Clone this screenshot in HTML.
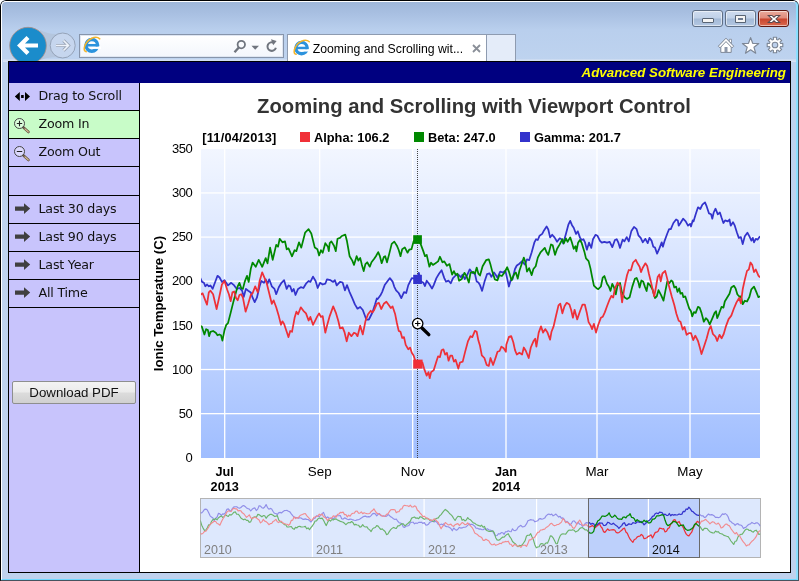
<!DOCTYPE html>
<html><head><meta charset="utf-8"><title>Zooming and Scrolling with Viewport Control</title>
<style>
html,body{margin:0;padding:0;}
body{width:799px;height:581px;overflow:hidden;position:relative;background:#fff;font-family:"Liberation Sans",sans-serif;}
#win{position:absolute;left:0;top:0;width:799px;height:581px;border-radius:6px 6px 0 0;
 background:linear-gradient(#9db5d8 0px,#a9c0e2 14px,#b9cfed 30px,#bed3ef 60px,#bfd2ee 100%);overflow:hidden;}
#win:before{content:"";position:absolute;left:0;top:0;right:0;bottom:0;border:1px solid #000;border-right-color:#46535f;border-bottom-color:#46535f;border-radius:6px 6px 0 0;}
#win:after{content:"";position:absolute;left:1px;top:1px;right:1px;bottom:1px;border:1px solid #fff;border-right:2px solid #8adfff;border-bottom-color:#6fd8ff;border-radius:5px 5px 0 0;pointer-events:none;}
.abs{position:absolute;}
#content{position:absolute;left:8px;top:61px;width:781px;height:510px;border:1px solid #000;background:#fff;}
#hdr{position:absolute;left:0;top:0;width:781px;height:21px;background:#000080;color:#ffff00;font:italic bold 13.33px "Liberation Sans",sans-serif;text-align:right;line-height:22px;}
#hdr span{margin-right:4px;}
#side{position:absolute;left:0;top:21px;width:130px;height:489px;background:#c8c4fc;border-right:1px solid #000;}
.it{position:absolute;left:0;width:130px;height:27px;border-bottom:1px solid #000;font:12.65px "DejaVu Sans","Liberation Sans",sans-serif;color:#111;line-height:26px;}
.it span{position:absolute;left:29.500px;top:0;white-space:nowrap;letter-spacing:-0.2px;}
.it svg{position:absolute;left:0;top:0;}
#btn{position:absolute;left:3px;top:298px;width:122px;height:21px;border:1px solid #8e8f8f;border-radius:2px;background:linear-gradient(#f3f3f3 0,#ebebeb 48%,#dcdcdc 52%,#d0d0d0 100%);font:13.3px "Liberation Sans",sans-serif;color:#111;text-align:center;line-height:21px;}
#tab{position:absolute;left:287px;top:34px;width:200px;height:28px;background:#fff;border:1px solid #8e9bb0;border-bottom:none;box-sizing:border-box;font:12px "Liberation Sans",sans-serif;color:#000;}
#newtab{position:absolute;left:487px;top:34px;width:29px;height:27px;background:#e4ecf9;border:1px solid #8e9bb0;border-left:none;border-bottom:none;box-sizing:border-box;}
#addr{position:absolute;left:79px;top:34px;width:205px;height:24px;background:linear-gradient(#fff,#f3f6fc);box-shadow:inset 0 0 0 1px #dfe6f2;border:1px solid #8795ab;box-sizing:border-box;}
.wb{position:absolute;top:10px;height:17px;width:31px;box-sizing:border-box;border:1px solid #5f6f86;border-radius:3px;box-shadow:inset 0 0 0 1px rgba(255,255,255,.55);}
</style></head><body>
<div id="win">

<div class="wb" style="left:692px;width:31px;background:linear-gradient(#cfdcef 0,#c0d1e8 47%,#a4bad7 53%,#b3c7e2 100%);"><div class="abs" style="left:9px;top:7px;width:10px;height:3px;background:#f4f4f4;border:1px solid #586474;border-radius:1px;"></div></div>
<div class="wb" style="left:725px;width:31px;background:linear-gradient(#cfdcef 0,#c0d1e8 47%,#a4bad7 53%,#b3c7e2 100%);"><div class="abs" style="left:9px;top:4px;width:11px;height:8px;background:#586474;border-radius:1px;"></div><div class="abs" style="left:10px;top:5px;width:9px;height:6px;background:#f4f4f4;"></div><div class="abs" style="left:12px;top:7px;width:5px;height:2px;background:#6c7a90;"></div></div>
<div class="wb" style="left:758px;width:31px;border-color:#5d1812;background:linear-gradient(#eaaa9c 0,#e08b7b 47%,#c9452e 53%,#d9684f 100%);"><svg class="abs" style="left:6.500px;top:3px" width="16" height="10" viewBox="0 0 14 10" preserveAspectRatio="none"><path d="M2 1.500 L5.200 1.500 L7 3.200 L8.800 1.500 L12 1.500 L8.700 5 L12 8.500 L8.800 8.500 L7 6.800 L5.200 8.500 L2 8.500 L5.300 5 Z" fill="#fff" stroke="#5a4a50" stroke-width="1"/></svg></div>
<div class="abs" style="left:3px;top:58.500px;width:793px;height:3px;background:linear-gradient(#c9d9f0,#dde7f6);"></div>
<svg class="abs" style="left:0;top:20px" width="90" height="48" viewBox="0 20 90 48">
<path d="M40 30 Q52 36 62 33 L62 58 Q50 56 40 60 Z" fill="#b4c4dc" opacity="0.9"/>
<circle cx="28" cy="45.600" r="18.300" fill="#1b8ccb" stroke="#a98e86" stroke-width="0.8"/>
<path d="M38 45.500 L21 45.500 M28 37.500 L20 45.500 L28 53.500" fill="none" stroke="#fff" stroke-width="4.2" stroke-linecap="butt" stroke-linejoin="miter"/>
<circle cx="62.700" cy="45.500" r="12.500" fill="#c6d6ee" stroke="#95a3b8" stroke-width="1"/>
<path d="M56 45.5 L68 45.5 M63.5 40.5 L68.5 45.5 L63.5 50.5" fill="none" stroke="#9aa5b6" stroke-width="3.2"/>
<path d="M56 45.5 L68 45.5 M63.5 40.5 L68.5 45.5 L63.5 50.5" fill="none" stroke="#eef3fb" stroke-width="1.6"/>
</svg>
<div id="addr"><svg class="abs" style="left:1.7px;top:0.3px" width="19" height="19" viewBox="0 0 18 18"><circle cx="9.3" cy="9.8" r="5.5" fill="none" stroke="#2c93dd" stroke-width="3.3"/><rect x="9.3" y="10.9" width="9" height="2.3" fill="#fff"/><rect x="4.5" y="8.5" width="10.3" height="2.4" fill="#2c93dd"/><path d="M16.8 3.6 C13 0.2 4.500 3.500 2.300 11.500 C1.800 14 2.600 15.500 4 15.800" fill="none" stroke="#f3b52c" stroke-width="1.5" stroke-linecap="round"/></svg>
<svg class="abs" style="left:150px;top:2px" width="54" height="19" viewBox="0 0 54 19"><circle cx="11.300" cy="7.600" r="3.700" fill="none" stroke="#70757e" stroke-width="1.800"/><path d="M8.800 10.500 L4.500 15.300" stroke="#70757e" stroke-width="2.400"/><path d="M21.500 8.800 L29 8.800 L25.200 12.800 Z" fill="#70757e"/><path d="M44.200 6 A4.300 4.300 0 1 0 45.900 10.800" fill="none" stroke="#70757e" stroke-width="2"/><path d="M41 2.200 L46.600 4 L43.200 8.200 Z" fill="#70757e"/></svg></div>
<div id="tab"><svg class="abs" style="left:4px;top:3px" width="18.5" height="18.5" viewBox="0 0 18 18"><circle cx="9.3" cy="9.8" r="5.5" fill="none" stroke="#2c93dd" stroke-width="3.3"/><rect x="9.3" y="10.9" width="9" height="2.3" fill="#fff"/><rect x="4.5" y="8.5" width="10.3" height="2.4" fill="#2c93dd"/><path d="M16.8 3.6 C13 0.2 4.500 3.500 2.300 11.500 C1.800 14 2.600 15.500 4 15.800" fill="none" stroke="#f3b52c" stroke-width="1.5" stroke-linecap="round"/></svg><span class="abs" style="left:24.700px;top:6.600px;white-space:nowrap;font-size:12.25px">Zooming and Scrolling wit...</span><svg class="abs" style="left:184px;top:9px" width="9" height="9" viewBox="0 0 9 9"><path d="M1 1 L8 8 M8 1 L1 8" stroke="#8a8f98" stroke-width="1.8"/></svg></div><div id="newtab"></div>
<svg class="abs" style="left:715px;top:35px" width="72" height="22" viewBox="715 35 72 22" fill="none" stroke-linejoin="round">
<path d="M723.700 41.200 L720.800 44.200 L720.800 52.400 L731.200 52.400 L731.200 44.200 L728.300 41.200 Z" fill="#fff" stroke="#7d8796" stroke-width="1"/><rect x="724.500" y="47" width="3" height="5" fill="#8d98aa"/><path d="M729.300 39.300 L731.500 39.300 L731.500 43.500 L729.300 41.500 Z" fill="#fff" stroke="#7d8796" stroke-width="0.8"/><path d="M718.300 46.200 L726 38.200 L733.700 46.200 L732 47.800 L726 41.600 L720 47.800 Z" fill="#fff" stroke="#7d8796" stroke-width="1"/>
<polygon points="750.6,37.6 752.7,43.3 758.8,43.5 754.0,47.3 755.7,53.2 750.6,49.8 745.5,53.2 747.2,47.3 742.4,43.5 748.5,43.3" fill="#fff" stroke="#7d8796" stroke-width="1.2"/>
<polygon points="782.8,43.3 782.8,46.7 780.6,46.5 780.0,47.9 781.7,49.3 779.3,51.7 777.9,50.0 776.5,50.6 776.7,52.8 773.3,52.8 773.5,50.6 772.1,50.0 770.7,51.7 768.3,49.3 770.0,47.9 769.4,46.5 767.2,46.7 767.2,43.3 769.4,43.5 770.0,42.1 768.3,40.7 770.7,38.3 772.1,40.0 773.5,39.4 773.3,37.2 776.7,37.2 776.5,39.4 777.9,40.0 779.3,38.3 781.7,40.7 780.0,42.1 780.6,43.5" fill="#fff" stroke="#7d8796" stroke-width="1.1"/><circle cx="775" cy="45" r="2.8" fill="#bcd0ec" stroke="#7d8796" stroke-width="1.1"/>
</svg>
<div id="content"><div id="hdr"><span>Advanced Software Engineering</span></div>
<div id="side">
<div class="it" style="top:0px;"><svg width="30" height="27" viewBox="0 0 30 27"><path d="M5.800 13.500 L10.800 9 L10.800 18 Z M21 13.500 L16 9 L16 18 Z" fill="#000"/><rect x="12.100" y="12" width="2.600" height="3" fill="#000"/></svg><span>Drag to Scroll</span></div>
<div class="it" style="top:28px;background:#c8fcc8;"><svg width="30" height="27" viewBox="0 0 30 27"><path d="M14.500 16.500 L19.500 21" stroke="#6a5a4a" stroke-width="2.600" stroke-linecap="round"/><path d="M16 17.800 L19.300 20.800" stroke="#dcc498" stroke-width="1.100" stroke-linecap="round"/><circle cx="10.500" cy="12.500" r="5" fill="rgba(255,255,255,.35)" stroke="#444" stroke-width="1"/><path d="M7.800 12.500 L13.200 12.500 M10.500 9.800 L10.500 15.200" stroke="#222" stroke-width="1.1"/></svg><span>Zoom In</span></div>
<div class="it" style="top:56px;"><svg width="30" height="27" viewBox="0 0 30 27"><path d="M14.500 16.500 L19.500 21" stroke="#6a5a4a" stroke-width="2.600" stroke-linecap="round"/><path d="M16 17.800 L19.300 20.800" stroke="#dcc498" stroke-width="1.100" stroke-linecap="round"/><circle cx="10.500" cy="12.500" r="5" fill="rgba(255,255,255,.35)" stroke="#444" stroke-width="1"/><path d="M7.800 12.500 L13.200 12.500" stroke="#222" stroke-width="1.1"/></svg><span>Zoom Out</span></div>
<div class="it" style="top:84px;height:28px;"><span></span></div>
<div class="it" style="top:113px;"><svg width="30" height="27" viewBox="0 0 30 27"><path d="M6 10.400 L15 10.400 L15 7.200 L21.200 12.600 L15 18 L15 14.800 L6 14.800 Z" fill="#404040"/></svg><span>Last 30 days</span></div>
<div class="it" style="top:141px;"><svg width="30" height="27" viewBox="0 0 30 27"><path d="M6 10.400 L15 10.400 L15 7.200 L21.200 12.600 L15 18 L15 14.800 L6 14.800 Z" fill="#404040"/></svg><span>Last 90 days</span></div>
<div class="it" style="top:169px;"><svg width="30" height="27" viewBox="0 0 30 27"><path d="M6 10.400 L15 10.400 L15 7.200 L21.200 12.600 L15 18 L15 14.800 L6 14.800 Z" fill="#404040"/></svg><span>Last Year</span></div>
<div class="it" style="top:197px;"><svg width="30" height="27" viewBox="0 0 30 27"><path d="M6 10.400 L15 10.400 L15 7.200 L21.200 12.600 L15 18 L15 14.800 L6 14.800 Z" fill="#404040"/></svg><span>All Time</span></div>
<div id="btn">Download PDF</div>
</div>
</div>
<svg class="abs" style="left:0;top:0" width="799" height="581" viewBox="0 0 799 581" font-family="Liberation Sans, sans-serif">
<defs><linearGradient id="pg" x1="0" y1="0" x2="0" y2="1"><stop offset="0" stop-color="#f2f6ff"/><stop offset="0.35" stop-color="#d9e5ff"/><stop offset="1" stop-color="#9fbdff"/></linearGradient></defs>
<rect x="201" y="149" width="559" height="309" fill="url(#pg)"/>
<text x="192.300" y="462.0" font-size="13" letter-spacing="-0.5" text-anchor="end" fill="#000">0</text>
<rect x="201" y="413.01" width="559" height="1.300" fill="#fff"/>
<text x="192.300" y="417.9" font-size="13" letter-spacing="-0.5" text-anchor="end" fill="#000">50</text>
<rect x="201" y="368.86" width="559" height="1.300" fill="#fff"/>
<text x="192.300" y="373.7" font-size="13" letter-spacing="-0.5" text-anchor="end" fill="#000">100</text>
<rect x="201" y="324.72" width="559" height="1.300" fill="#fff"/>
<text x="192.300" y="329.6" font-size="13" letter-spacing="-0.5" text-anchor="end" fill="#000">150</text>
<rect x="201" y="280.58" width="559" height="1.300" fill="#fff"/>
<text x="192.300" y="285.4" font-size="13" letter-spacing="-0.5" text-anchor="end" fill="#000">200</text>
<rect x="201" y="236.44" width="559" height="1.300" fill="#fff"/>
<text x="192.300" y="241.3" font-size="13" letter-spacing="-0.5" text-anchor="end" fill="#000">250</text>
<rect x="201" y="192.29" width="559" height="1.300" fill="#fff"/>
<text x="192.300" y="197.1" font-size="13" letter-spacing="-0.5" text-anchor="end" fill="#000">300</text>
<text x="192.300" y="153.0" font-size="13" letter-spacing="-0.5" text-anchor="end" fill="#000">350</text>
<rect x="224.05" y="149" width="1.300" height="309" fill="#fff"/>
<text x="224.7" y="475.500" text-anchor="middle" font-weight="bold" font-size="12.7" fill="#000">Jul</text>
<text x="224.7" y="490.500" font-size="12.7" text-anchor="middle" font-weight="bold" fill="#000">2013</text>
<rect x="319.05" y="149" width="1.300" height="309" fill="#fff"/>
<text x="319.7" y="475.500" text-anchor="middle" font-size="13.4" fill="#000">Sep</text>
<rect x="412.05" y="149" width="1.300" height="309" fill="#fff"/>
<text x="412.7" y="475.500" text-anchor="middle" font-size="13.4" fill="#000">Nov</text>
<rect x="505.35" y="149" width="1.300" height="309" fill="#fff"/>
<text x="506.0" y="475.500" text-anchor="middle" font-weight="bold" font-size="12.7" fill="#000">Jan</text>
<text x="506.0" y="490.500" font-size="12.7" text-anchor="middle" font-weight="bold" fill="#000">2014</text>
<rect x="596.35" y="149" width="1.300" height="309" fill="#fff"/>
<text x="597.0" y="475.500" text-anchor="middle" font-size="13.4" fill="#000">Mar</text>
<rect x="689.35" y="149" width="1.300" height="309" fill="#fff"/>
<text x="690.0" y="475.500" text-anchor="middle" font-size="13.4" fill="#000">May</text>
<text x="474" y="113" font-size="20.25" font-weight="bold" text-anchor="middle" fill="#333">Zooming and Scrolling with Viewport Control</text>
<text transform="translate(163.300,303.500) rotate(-90)" font-size="13.2" font-weight="bold" text-anchor="middle" fill="#000">Ionic Temperature (C)</text>
<text x="202.300" y="142" font-size="12.8" letter-spacing="0.2" font-weight="bold" fill="#000">[11/04/2013]</text>
<rect x="300" y="132" width="10" height="10" fill="#f03038"/><text x="314" y="142" font-size="12.8" font-weight="bold" fill="#000">Alpha: 106.2</text>
<rect x="414" y="132" width="10" height="10" fill="#008800"/><text x="428" y="142" font-size="12.8" font-weight="bold" fill="#000">Beta: 247.0</text>
<rect x="520" y="132" width="10" height="10" fill="#3333cc"/><text x="534" y="142" font-size="12.8" font-weight="bold" fill="#000">Gamma: 201.7</text>
<clipPath id="cp"><rect x="201" y="149" width="559" height="309"/></clipPath><g clip-path="url(#cp)" fill="none" stroke-width="1.750" stroke-linejoin="round">
<polyline points="200,277.5 202.1,281.9 203.9,282.8 205.3,286.3 207,284.5 208.8,286.3 210.5,285.4 212.6,288.9 214.9,282.8 217.5,275.8 219.6,277.5 221.9,281.9 224.5,280.2 228,285.4 231.2,282.8 234.2,285.4 236.8,288.9 239.4,288 242.1,290.7 243.8,296.8 245.9,288.9 248.2,290.7 250.8,292.4 252.6,297.7 254.7,302.1 256.9,297.7 259.6,286.3 261.3,281 264,282.8 265.7,279.3 267.5,283.7 269.2,279.3 271.8,286.3 274.5,288.9 276.2,294.2 278.8,287.2 281.5,282.8 284.1,280.2 286.7,288.9 288.5,285.4 290.2,286.3 292,291.5 293.7,288.9 295.5,295 298.1,288.9 300.8,287.2 303.4,288 306,283.7 308.6,281 310.4,281.9 313,276.6 315.6,281 317.7,288 320,282.8 322.7,284.5 325.3,283.7 327,279.3 330.5,280.2 333.2,281.9 334.9,280.2 336.7,285.4 340,281.9 342.6,282.5 344.9,290.3 347,285.1 349.6,292.1 352.3,298.2 354.9,304.4 357.5,308.7 360.2,307 362.8,310 366.3,319.5 368.9,319.5 372.4,312.5 375,304.6 376.8,298.5 377.7,299.1 380.3,295.6 382.1,292.1 384.7,285.1 387.3,281.6 389.9,278.1 392.6,281.6 394.3,286.8 396.1,290.3 398.7,293 401.3,298.2 404,292.1 406.2,293 408.3,285.1 411.8,278.1 417.1,279 418.8,272.8 421,281.6 423.2,282.5 425,286 426.7,280.7 429.4,284.2 432,288.6 433.7,285.1 436.4,278.1 439,273.7 441.6,270.2 444.3,278.1 446,281.6 448.6,280.7 450.7,283.3 453,278.1 455.6,275.5 458.3,274.6 460.9,277.2 462.7,274.6 464.8,279 467,275.5 469.7,269.3 472.3,272.8 474.9,273.7 476.7,281.6 478.4,282.5 480,285.1 482.1,290.9 484.4,282.1 487,274.2 489.6,273.3 491.4,276.8 494,272.5 495.8,275.1 497.5,277.7 500.2,271.6 502.8,272.5 505.4,270.7 507.2,278.6 508.9,286.5 510.7,280.3 512.4,279.5 515,269 516.8,265.5 519.4,263.7 522.1,261.1 524.7,264.6 527,259.3 529.1,260.2 531.7,252.3 534.3,242.7 536.1,239.2 537.8,240 539.6,235.7 542.2,233.9 544,230.4 546.6,226.4 548.3,229.5 550.1,237.4 552.2,234.8 554.5,237.4 557.1,241.8 559.7,238.3 561.5,239.2 563.2,243.5 565.9,233.9 568.5,224.3 570.2,220.8 572,225.2 573.7,227.8 576,233.9 577.8,231.3 579.9,237.4 581.6,240 583.4,239.2 585.1,242.7 586.9,249.7 589,242.7 591.3,247.9 593,239.2 595.6,234.8 597.4,235.7 600,240.9 601.8,242.7 604.4,241.8 607,242.7 609.7,241.8 612.3,247.1 614.9,240 616.7,239.2 618.4,242.7 620,247.9 622.6,239.7 624.4,241.4 626.7,237.1 628.8,241.4 631.4,230.9 634,226.9 636.6,229.2 638.4,235.3 640.7,237.9 642.8,242.3 645.4,238.8 647.7,243.2 649.4,237.9 651.5,240.6 653.3,246.7 655,247.6 657.1,253.7 659.4,248.4 661.7,242.3 662.9,246.7 664.7,240.6 667.3,233.5 669.1,229.2 670.8,229.2 673.4,223 676.1,219.5 677.8,220.4 678.7,225.7 680.5,223 683.1,218.7 685.7,221.3 688,225.7 690.1,223.9 691,226.5 692.7,220.4 693.6,221.3 695.7,214.3 698,207.3 700.3,209 702.4,204.6 705,202.4 706.7,206.4 709,213.4 711.1,214.3 712.3,218.7 713.7,212.5 715.5,208.7 717.8,214.3 719.9,212.5 721.6,217.8 723.4,223 725.1,220.4 727.8,221.3 729.5,219.5 730.7,225.7 733,222.2 734.8,225.7 737,232.7 738.8,237.9 740.9,237.1 742.7,244.1 744.8,236.2 747.4,232.7 749.3,236.2 751.4,240.6 752.8,237.9 754,242.3 755.8,238.8 757.5,239.7 760,236.2" stroke="#3333cc"/>
<polyline points="200,325.7 201.8,326.6 204.4,334.5 206.1,329.2 207.9,330.1 209.1,336.2 210.5,331.8 213.1,331 215.8,332.7 217.5,335.3 219.3,334.5 221,335.3 222.4,340.6 224.5,330.1 226.3,324.8 228,323.1 230.7,312.6 233.3,302.1 235.9,292.4 237.7,286.3 239.4,282.8 241.2,288 242.9,288.9 244.7,281.9 247,275.8 248.7,281.9 250.8,268.8 252.6,262.6 255.7,266.8 258.7,259.8 262.2,266.8 265.7,258.1 267.5,263.3 270.1,247.6 272.7,259.8 276.2,244.9 278,246.7 279.7,238.8 282.4,242.3 285,241.4 286.7,249.3 288.5,248.4 292,256.3 294.6,250.2 296.4,251.1 299,242.3 301.3,247.6 305.1,232.7 308.6,229.2 311.3,233.5 314.8,247.6 317.4,249.3 319.1,255.5 320.9,250.2 322.7,252.8 325.3,243.2 327.9,246.7 328.8,251.1 329.7,243.2 331.4,241.4 334,245.8 335.8,251.1 337.5,238.8 340,237.9 341.8,236 345.3,234.6 347,241.3 349.6,256.2 352.3,260.6 354,264.9 356.6,256.2 358.4,260.6 360.2,257.9 361.9,264.9 363.7,271.1 365.4,264.1 367.2,262.3 369.8,266.7 371.5,262.3 374.2,258.8 375.9,256.2 378.2,252.1 379.9,256.2 381.7,263.2 383.8,257.1 385.2,256.2 387,262.3 389.1,254.4 391.7,243.9 394.3,241.6 396.9,245.7 398.7,250 400.5,256.2 402.2,249.2 404.8,247.4 407.5,252.7 409.2,249.7 411.5,249.2 413.6,241.3 417.1,239.2 420.6,243.9 423.2,250.9 425,256.2 426.7,254.9 429.4,266.7 431.1,262.7 432.9,264.9 435.5,263.2 438.1,261.4 439.9,256.7 442.5,262.3 444.3,261.4 446.9,265.8 449.5,264.1 452.1,274.6 453.9,271.1 455.6,274.6 457.4,273.7 459.1,280.7 461.8,279 464.4,272.8 466.2,275.5 468.8,282.5 470.5,272.8 473.2,271.9 474.9,273.7 476.7,267.6 478.4,273.7 480,275.5 482.6,266.3 486.1,260.2 488.8,259.3 490.5,264.6 492.3,271.6 494.9,279.5 497.5,280.3 499.3,275.1 501.9,276 504.5,272.5 507.2,267.2 508.9,271.6 511.5,280.3 514.2,274.2 515.9,272.5 517.7,278.6 519.4,270.7 521.2,265.5 523.8,257.6 525.6,262.8 527,271.6 529.1,268.1 531.7,275.1 533.4,269 535.7,266.3 537.8,257.6 540.5,252.3 543.1,249.7 544.8,247.9 546.6,252.3 548.3,254.9 551,244.4 552.7,245.3 555,254.9 557.1,248.8 559.7,244.4 562.4,239.2 563.8,243.5 565.9,238.3 567.6,241.8 570.2,237.4 572,242.7 573.7,248.8 575.5,246.2 576.4,251.4 578.1,242.7 579.9,240 581.6,242.7 584.3,251.4 586,258.4 588.6,261.1 590.4,268.1 592.1,276.8 593.9,285.6 596.5,288.2 598.3,289.1 600.9,286.5 602.7,277.7 604.4,276 607,283.8 608.8,286.5 610.5,290.9 612.3,283.8 614,287.4 615.8,294.4 617.5,285.6 620,283 621.8,291.9 624.4,297.2 627,298.9 629.6,297.2 632.3,286.6 634.9,278.8 636.6,277.9 638.4,282.3 639.6,287.5 641.4,280.5 643.1,281.4 644.9,286.6 646.6,291 648,283.1 649.8,284.9 652.4,289.3 655,298 656.8,296.3 658.5,290.2 661.2,295.4 663.5,300.7 665.2,291.9 667.3,281.4 669.4,283.1 671.2,280.5 672.6,281.4 674.3,287.5 676.1,286.6 677.5,291.9 679.2,288.4 680.5,293.7 682.2,292.8 683.4,297.2 685.2,296.3 687.5,303.3 689.2,308.5 691,311.2 692.2,316.4 693.9,312.1 695.7,312.9 698,306.8 699.7,307.7 701.5,312.9 703.8,321.7 705.9,318.2 707.6,319.9 709.7,324.3 712,319.1 714.6,312.9 716,311.2 717.2,318.2 719,313.8 721.6,306.8 723.4,307.7 724.8,301.5 726.9,298 729.5,293.7 731.3,287.5 733.9,285.8 735.6,288.4 737.4,294.5 740,297.2 740.9,296.3 742.7,304.2 744.8,300.7 747,301.5 749.3,297.2 751.4,289.3 754,286.6 756.3,291.9 758.4,297.2 760,296.3" stroke="#008800"/>
<polyline points="200,295 202.6,293.3 204.9,299.4 207,304.7 208.8,292.4 210.5,290.7 213.1,294.2 216.6,309.1 219.3,296.8 221.9,284.5 224.5,281 227.2,289.8 228.9,294.2 230.7,301.2 232.4,292.4 234.2,291.5 235.9,297.7 237.7,300.3 239.4,295 241.2,294.2 242.9,297.7 245.6,311.7 248.2,303.8 250.8,295 252.6,293.3 255.2,286.3 257.8,292.4 259.6,281 262.2,272.3 264,276.6 266.6,282.8 269.2,293.3 271.8,303.8 273.6,300.3 276.2,307.3 278.8,316.1 281,324.8 282.4,321.3 284.1,324 286.7,331.8 288.5,337.1 290.2,331 292,331.8 294.6,317.8 296.4,311.7 298.1,314.3 300.8,307.3 303.4,310.8 306,313.4 308.6,320.5 310.4,316.9 313,324.8 314.8,321.3 317.4,316.1 319.1,313.4 320.9,316.9 322.7,316.1 325.3,332.7 327,325.7 329.7,316.1 333.2,306.4 335.8,312.6 338.4,321.3 340,328.3 342.6,327.4 344.4,331.8 346.7,341.4 348.8,332.7 351.4,336.2 354,332.7 355.8,333.5 357.5,336.2 360.2,325.7 362.8,334.4 365.4,321.3 368,314.3 370.7,310.8 372.4,312.5 374.2,309.9 376.8,303.8 378.9,302.9 381.2,309 383.8,303.8 386.4,301.7 389.1,305.5 390.8,308.1 392.6,306.4 395.2,314.3 396.9,323 398.7,330.9 400.5,331.8 402.2,337.9 404,337.1 405.7,344.9 408.3,349.3 410.1,347.6 411.8,352.8 413.6,355.5 415.3,360.7 418,363.3 422.4,362.5 424.1,368.6 426.7,375.6 428.5,372.1 429.7,378.2 431.1,372.1 433.7,370.3 436.4,361.6 438.1,356.3 439.9,357.2 441.6,350.2 443.4,349.3 445.1,354.6 446.9,352.8 448.6,360.7 450.4,355.5 452.1,355.5 453.9,361.6 455.6,359.8 458.3,368.6 460,362.5 462.7,361.6 465.3,351.1 467.9,341.4 470.5,336.2 472.3,337.1 474.9,330.9 476.7,331.8 478.4,340.6 480,345.8 481.8,355.3 484.4,358 486.7,365 488.8,365.9 490.5,358 493.1,365 495.8,357.1 497.5,351.8 499.6,351 501.4,346.6 503.7,348.3 505.9,351.8 506.3,344.8 508.9,336.9 511.2,336.1 513.3,342.2 515,350.1 516.8,354.5 519.4,352.7 522.1,354.5 523.8,347.5 525.9,351 528.7,358 530.8,347.5 533.4,341.3 535.2,338.7 536.4,346.6 538.7,332.6 541,326.4 543.1,332.6 545.2,329.1 547.5,332.6 550.1,339.6 551.5,331.7 553.6,326.4 556.2,315 558.5,305.4 560.3,303.7 562.4,313.3 564.5,306.3 566.7,302.8 569.4,304.5 571.1,309.8 572.9,317.7 574.6,309.8 577.2,319.4 579.9,311.5 582.5,304.5 584.8,304.5 586.9,313.3 588.6,322.1 590.7,325.6 592.1,329.1 593.9,323.8 596,332.6 598.3,324.7 600.9,317.7 602.7,316.8 604.8,312.4 607,306.3 609.7,299.3 611.4,295.8 613.2,297.5 614.9,288.8 617.5,282.6 620,285.3 622.1,302.4 624.4,287.5 627,275.3 628.8,270 630.9,270.3 633.1,262.5 635.8,259.8 637.5,263.3 639.6,266.8 641,272.1 642.8,267.7 645.4,263.3 647.2,266 648.9,273.8 651.5,284.4 654.2,296.3 655.9,287.5 657.7,277 659.4,274.4 660.7,281.4 662.4,273.5 665.2,270.9 667,277.9 669.1,286.6 671.7,296.3 674.3,305 676.4,313.8 678.7,320.8 680.5,321.7 682.7,329.6 684.5,326.9 686.6,334.8 689.2,333.1 691,333.1 693.2,340.1 695.3,335.7 698,341 699.7,347.1 701.5,354.1 704.1,346.2 706.7,338.3 709,329.6 710.8,326.1 712.9,334 715.5,336.6 717.2,341 719.5,334.8 721.6,338.3 723.7,334 726,326.1 728.6,319.1 731.3,315.6 733.9,308.5 736.5,302.4 739.1,298 740.9,303.3 742.7,289.3 744.8,279.6 747,270.9 748.8,269.5 750.5,262.5 752.3,265.1 754,272.1 755.8,269.5 758.4,275.6 760,277.4" stroke="#ee3038"/>
</g>
<line x1="417.500" y1="149" x2="417.500" y2="458" stroke="#444" stroke-width="1" stroke-dasharray="1,1"/>
<rect x="413.200" y="235.200" width="8.700" height="8.700" fill="#008800"/><rect x="413.200" y="274.800" width="8.700" height="9.200" fill="#3333cc"/><rect x="413.200" y="359.600" width="9.400" height="9" fill="#f03038"/>
<path d="M422 328 L428.800 334.600" stroke="#000" stroke-width="3.400" stroke-linecap="round"/><circle cx="417.700" cy="323.600" r="5.200" fill="#fff" stroke="#000" stroke-width="1.300"/><path d="M415 323.500 L420.400 323.500 M417.700 320.800 L417.700 326.200" stroke="#000" stroke-width="1.100"/>
<rect x="200.5" y="498.5" width="560.0" height="59.0" fill="#dde8fd" stroke="#b4b4b4" stroke-width="1"/>
<rect x="588.5" y="498.5" width="111.0" height="59.0" fill="#bdd0fb"/>
<rect x="311.8" y="499.0" width="1.200" height="58.0" fill="#fff"/>
<rect x="423.5" y="499.0" width="1.200" height="58.0" fill="#fff"/>
<rect x="536.0" y="499.0" width="1.200" height="58.0" fill="#fff"/>
<rect x="647.8" y="499.0" width="1.200" height="58.0" fill="#fff"/>
<text x="204" y="554" font-size="12.5" fill="#808080">2010</text>
<text x="316" y="554" font-size="12.5" fill="#808080">2011</text>
<text x="428" y="554" font-size="12.5" fill="#808080">2012</text>
<text x="540" y="554" font-size="12.5" fill="#808080">2013</text>
<text x="652" y="554" font-size="12.5" fill="#111">2014</text>
<clipPath id="c1"><rect x="200.5" y="498.5" width="388.0" height="59.0"/><rect x="699.5" y="498.5" width="61.0" height="59.0"/></clipPath>
<clipPath id="c2"><rect x="588.5" y="498.5" width="111.0" height="59.0"/></clipPath>
<g clip-path="url(#c1)" fill="none" stroke-width="1.150" stroke-linejoin="round">
<polyline points="200.3,512.7 201.7,512.9 203.1,511.3 204.5,509.4 205.9,509.1 207.3,510 208.7,512.7 210.1,515.8 211.5,517.1 212.9,518 214.3,520.7 215.7,518.1 217.1,517 218.5,513.3 219.9,513.9 221.3,515.4 222.7,513.9 224.1,514.1 225.5,512.6 226.9,509.3 228.3,508.9 229.7,510.5 231.1,510.9 232.5,508.3 233.9,506.8 235.3,506.8 236.7,506.7 238.1,507.8 239.5,508.2 240.9,507.5 242.3,506.1 243.7,505.5 245.1,506.4 246.5,507.9 247.9,508.6 249.3,509 250.7,511 252.1,509.3 253.5,508.3 254.9,507.9 256.3,510.6 257.7,509.1 259.1,505.7 260.5,506.1 261.9,507.7 263.3,508.2 264.7,507 266.1,504.6 267.5,507.6 268.9,509.2 270.3,508.4 271.7,509 273.1,511.5 274.5,513.3 275.9,513.5 277.3,514.6 278.7,512.7 280.1,512.4 281.5,513 282.9,511.7 284.3,510.6 285.7,510.5 287.1,510.4 288.5,511.3 289.9,511.9 291.3,513.8 292.7,515.6 294.1,517.1 295.5,517.4 296.9,517.6 298.3,518.3 299.7,517.7 301.1,518 302.5,519.1 303.9,519.4 305.3,518.9 306.7,519.4 308.1,519.5 309.5,520.6 310.9,522 312.3,520.4 313.7,518.5 315.1,518.2 316.5,515.8 317.9,516 319.3,516.6 320.7,515.3 322.1,513.6 323.5,512.4 324.9,515.8 326.3,518.1 327.7,516.9 329.1,518.4 330.5,518 331.9,518.4 333.3,518.6 334.7,517.7 336.1,515.7 337.5,515.7 338.9,515.8 340.3,515.6 341.7,518.8 343.1,519.2 344.5,517.9 345.9,518.4 347.3,519.3 348.7,519.6 350.1,519.1 351.5,519.2 352.9,519.9 354.3,520.3 355.7,520.5 357.1,519.9 358.5,519.8 359.9,519 361.3,518.1 362.7,517 364.1,516.4 365.5,516.1 366.9,517 368.3,516.6 369.7,516.9 371.1,515.6 372.5,513.9 373.9,513.4 375.3,513.8 376.7,515.8 378.1,514.3 379.5,513.6 380.9,515.7 382.3,516 383.7,515.8 385.1,516.5 386.5,516.3 387.9,514.6 389.3,515.3 390.7,516.8 392.1,517.6 393.5,518.7 394.9,519.5 396.3,519 397.7,521.2 399.1,522.7 400.5,523.1 401.9,523.8 403.3,526.9 404.7,527.4 406.1,526 407.5,526 408.9,525.5 410.3,522.8 411.7,522.3 413.1,522.2 414.5,523.8 415.9,523 417.3,523.4 418.7,522.4 420.1,522.4 421.5,522.2 422.9,523.5 424.3,522.6 425.7,524.9 427.1,525.1 428.5,524.2 429.9,522.2 431.3,521.6 432.7,520.8 434.1,522 435.5,521.2 436.9,522.2 438.3,524.4 439.7,525.1 441.1,524.1 442.5,524.8 443.9,523.8 445.3,526.1 446.7,526.6 448.1,526.8 449.5,527.6 450.9,528.5 452.3,530.8 453.7,528 455.1,529.4 456.5,530.2 457.9,529.2 459.3,527.4 460.7,528.1 462.1,527.9 463.5,527.2 464.9,527.2 466.3,526.7 467.7,525.3 469.1,523.9 470.5,524.5 471.9,524.2 473.3,525 474.7,526.1 476.1,528.3 477.5,528.2 478.9,529.1 480.3,528.9 481.7,529.6 483.1,529.7 484.5,528.7 485.9,529.5 487.3,528.8 488.7,529.8 490.1,530.1 491.5,530.5 492.9,531.7 494.3,534.1 495.7,535.8 497.1,535.5 498.5,533.7 499.9,534 501.3,532.6 502.7,532.7 504.1,534.3 505.5,531.7 506.9,531.8 508.3,530.8 509.7,531.5 511.1,531.7 512.5,528.8 513.9,530.5 515.3,530.6 516.7,529.8 518.1,527.3 519.5,526.3 520.9,525.3 522.3,526.9 523.7,526.8 525.1,525.9 526.5,523.9 527.9,520.8 529.3,520.2 530.7,519.6 532.1,520 533.5,520.1 534.9,521.8 536.3,521.2 537.7,520.8 539.1,518.9 540.5,518.6 541.9,519.2 543.3,518.8 544.7,518.1 546.1,515.9 547.5,514.6 548.9,514 550.3,514.7 551.7,514.1 553.1,515.8 554.5,515 555.9,514.1 557.3,515.7 558.7,517.1 560.1,516.3 561.5,518.3 562.9,517.9 564.3,519.4 565.7,522.3 567.1,521.3 568.5,522.7 569.9,525.3 571.3,523.7 572.7,521.2 574.1,520.8 575.5,522.4 576.9,524.2 578.3,522.3 579.7,524.3 581.1,524.5 582.5,526.4 583.9,525.3 585.3,523.2 586.7,522.6 588.1,523 589.5,522.6 590.9,524.3 592.3,523.4 593.7,523.8 595.1,526.4 596.5,524.9 597.9,524.1 599.3,522.9 600.7,523.1 602.1,523 603.5,525.3 604.9,525.5 606.3,524.6 607.7,522.2 609.1,522.8 610.5,524 611.9,524.3 613.3,523.2 614.7,524.4 616.1,525.5 617.5,526.5 618.9,528.4 620.3,526.9 621.7,525.6 623.1,523.4 624.5,522.7 625.9,525.7 627.3,525.2 628.7,523.8 630.1,524.1 631.5,524.3 632.9,522.7 634.3,523 635.7,523.3 637.1,521.9 638.5,521.8 639.9,522.3 641.3,521.5 642.7,522.9 644.1,524.8 645.5,523.5 646.9,522.1 648.3,520.9 649.7,519.9 651.1,518.5 652.5,516.3 653.9,515.9 655.3,513.5 656.7,513 658.1,513.8 659.5,512.2 660.9,512.3 662.3,512.9 663.7,515.1 665.1,514.1 666.5,515.3 667.9,515.5 669.3,513.5 670.7,515.8 672.1,514.5 673.5,515.1 674.9,514.7 676.3,515 677.7,514.8 679.1,514 680.5,514.5 681.9,514.1 683.3,511.3 684.7,511.7 686.1,509 687.5,509.4 688.9,507.2 690.3,508.8 691.7,511.1 693.1,511.8 694.5,513.2 695.9,514.4 697.3,515.2 698.7,515.4 700.1,514.8 701.5,515.9 702.9,515.7 704.3,517.4 705.7,517.2 707.1,515.3 708.5,514 709.9,515 711.3,514.6 712.7,514.9 714.1,515.8 715.5,517.4 716.9,517.3 718.3,517.6 719.7,517.3 721.1,515.7 722.5,513.9 723.9,514.4 725.3,513.6 726.7,514.6 728.1,516.7 729.5,520.7 730.9,521.6 732.3,523 733.7,523.7 735.1,525.4 736.5,524 737.9,523.6 739.3,525 740.7,525 742.1,525.9 743.5,528.5 744.9,527.6 746.3,527 747.7,525.2 749.1,524.3 750.5,523.9 751.9,522.4 753.3,523.3 754.7,523.7 756.1,522.8 757.5,522.8 758.9,524.2 760.3,526.2" stroke="#908ee8"/><polyline points="200.3,520.4 201.7,525.2 203.1,528.1 204.5,530.5 205.9,530 207.3,527.7 208.7,524.8 210.1,524.7 211.5,521.5 212.9,519.6 214.3,519.4 215.7,518.6 217.1,519.8 218.5,517.7 219.9,516.7 221.3,515.9 222.7,517.4 224.1,516.8 225.5,514.7 226.9,515.7 228.3,516.5 229.7,514.5 231.1,515.1 232.5,513.8 233.9,512.2 235.3,511.9 236.7,514.2 238.1,514.2 239.5,515.7 240.9,518 242.3,518.9 243.7,519.8 245.1,519.1 246.5,520.4 247.9,520.3 249.3,522.3 250.7,521.9 252.1,518.4 253.5,517.2 254.9,516.9 256.3,517.4 257.7,514.4 259.1,514.6 260.5,515.7 261.9,516.8 263.3,515.6 264.7,515.8 266.1,518.3 267.5,516.3 268.9,515.3 270.3,514.3 271.7,514.4 273.1,515.2 274.5,516.4 275.9,516.2 277.3,515.6 278.7,519.8 280.1,521.6 281.5,522.5 282.9,523 284.3,524.7 285.7,524.7 287.1,527 288.5,527 289.9,526.7 291.3,526.5 292.7,528.6 294.1,529.3 295.5,527.3 296.9,527.9 298.3,526.5 299.7,526.4 301.1,526.9 302.5,527 303.9,526.8 305.3,526.4 306.7,528.8 308.1,527.9 309.5,529.7 310.9,527.6 312.3,526 313.7,523.9 315.1,521 316.5,520.9 317.9,518.9 319.3,517.9 320.7,518.6 322.1,518.1 323.5,520.3 324.9,523.1 326.3,525.6 327.7,522.3 329.1,519.9 330.5,521.2 331.9,519.5 333.3,520 334.7,519.1 336.1,518.9 337.5,520 338.9,520.6 340.3,521.4 341.7,521.8 343.1,522.2 344.5,523.3 345.9,524.7 347.3,523.3 348.7,522.6 350.1,522.8 351.5,521.5 352.9,522.5 354.3,524.9 355.7,524.4 357.1,525 358.5,525.2 359.9,527.2 361.3,526.6 362.7,524.7 364.1,526.5 365.5,527 366.9,526.7 368.3,528.9 369.7,529.9 371.1,531.6 372.5,528.9 373.9,527.9 375.3,527.5 376.7,525.6 378.1,526.1 379.5,528 380.9,529.5 382.3,528.9 383.7,530.3 385.1,531.5 386.5,534.6 387.9,534 389.3,531.6 390.7,529.7 392.1,528.4 393.5,527.4 394.9,528.1 396.3,528.5 397.7,525.9 399.1,525.9 400.5,524.8 401.9,523.7 403.3,523.9 404.7,525.7 406.1,524.9 407.5,523.8 408.9,522.5 410.3,521.3 411.7,518.1 413.1,517.5 414.5,517 415.9,518.2 417.3,517.9 418.7,518.7 420.1,516.7 421.5,517.1 422.9,518.3 424.3,519.3 425.7,518.8 427.1,518.7 428.5,518.9 429.9,520.3 431.3,520.1 432.7,521.4 434.1,521 435.5,518.9 436.9,518.2 438.3,517.9 439.7,515.7 441.1,514.6 442.5,512.7 443.9,510.9 445.3,509.4 446.7,510.5 448.1,511.7 449.5,513.5 450.9,514.6 452.3,516.1 453.7,518.5 455.1,520.5 456.5,518 457.9,516.3 459.3,516.6 460.7,516.5 462.1,520.2 463.5,519.4 464.9,520.9 466.3,520 467.7,517.6 469.1,519.2 470.5,519.8 471.9,521.4 473.3,522.9 474.7,523.3 476.1,524.4 477.5,525.1 478.9,525.6 480.3,526.3 481.7,525.2 483.1,527.3 484.5,526.4 485.9,529.7 487.3,530.7 488.7,531.3 490.1,531.3 491.5,531.3 492.9,530.8 494.3,532.8 495.7,537.7 497.1,539.9 498.5,540.2 499.9,539.6 501.3,538.2 502.7,537 504.1,537.2 505.5,535.7 506.9,534.4 508.3,533.7 509.7,536.7 511.1,538.5 512.5,541.5 513.9,542.7 515.3,543.7 516.7,545.6 518.1,546.7 519.5,545.3 520.9,545.7 522.3,544.8 523.7,542.7 525.1,540.6 526.5,536 527.9,535.2 529.3,535.3 530.7,533.7 532.1,537 533.5,540.1 534.9,544.9 536.3,547.8 537.7,547 539.1,546.7 540.5,544.1 541.9,543.5 543.3,544.2 544.7,544.3 546.1,542.8 547.5,543.2 548.9,540.1 550.3,535.9 551.7,536.1 553.1,537.8 554.5,540.6 555.9,543.6 557.3,543.7 558.7,539.4 560.1,536 561.5,534.2 562.9,533.9 564.3,534 565.7,534.2 567.1,532.2 568.5,530.3 569.9,530.1 571.3,530.2 572.7,529.7 574.1,530.2 575.5,532 576.9,531.3 578.3,530.4 579.7,528.6 581.1,527.7 582.5,527.6 583.9,528.8 585.3,530 586.7,529.9 588.1,531.5 589.5,532.8 590.9,533.2 592.3,532.9 593.7,531.4 595.1,525.7 596.5,523.6 597.9,520.8 599.3,520 600.7,518.3 602.1,516 603.5,516.2 604.9,516.4 606.3,515.7 607.7,514.9 609.1,512.8 610.5,515.9 611.9,517.4 613.3,516.8 614.7,515.1 616.1,516.5 617.5,518.5 618.9,519.1 620.3,519 621.7,519.4 623.1,517.2 624.5,517 625.9,517.9 627.3,515.8 628.7,515.5 630.1,513.7 631.5,517.3 632.9,517.6 634.3,518.7 635.7,521.7 637.1,519.6 638.5,520.8 639.9,521.4 641.3,522.6 642.7,521.9 644.1,520.2 645.5,521.6 646.9,520.9 648.3,523 649.7,522.9 651.1,521.9 652.5,519.1 653.9,519.1 655.3,518.2 656.7,515.8 658.1,515.9 659.5,515.6 660.9,515.2 662.3,514.7 663.7,515.5 665.1,520.3 666.5,524 667.9,525.7 669.3,524.9 670.7,523.9 672.1,522.8 673.5,521.3 674.9,521.6 676.3,522.3 677.7,524.3 679.1,526.3 680.5,525.2 681.9,525.5 683.3,524.9 684.7,528 686.1,529.5 687.5,530.3 688.9,530.2 690.3,529.6 691.7,528.8 693.1,527.5 694.5,524.5 695.9,523.4 697.3,524.8 698.7,526 700.1,526.6 701.5,528.9 702.9,530.5 704.3,528.4 705.7,528.2 707.1,528.5 708.5,530.4 709.9,531.7 711.3,532.4 712.7,532.9 714.1,533 715.5,531.1 716.9,531.9 718.3,531.7 719.7,533.3 721.1,533.7 722.5,534.1 723.9,535.4 725.3,535.7 726.7,536.2 728.1,536.6 729.5,538.5 730.9,541 732.3,542.7 733.7,544.5 735.1,541.2 736.5,541 737.9,537.1 739.3,535.2 740.7,534.4 742.1,534.3 743.5,532.4 744.9,530.3 746.3,529.1 747.7,529.2 749.1,530.5 750.5,530.3 751.9,531.5 753.3,532.2 754.7,530.7 756.1,530.2 757.5,532.1 758.9,534.5 760.3,533.8" stroke="#6cb46c"/><polyline points="200.3,533.2 201.7,534.1 203.1,533.1 204.5,531.4 205.9,531.3 207.3,529.2 208.7,527.1 210.1,524.5 211.5,523.3 212.9,522.3 214.3,521.2 215.7,521.5 217.1,523.5 218.5,524 219.9,525.2 221.3,522 222.7,519.3 224.1,517 225.5,514.8 226.9,512.1 228.3,510.8 229.7,511.2 231.1,511.5 232.5,509.3 233.9,508.3 235.3,508.9 236.7,508.9 238.1,510.9 239.5,510.6 240.9,510.8 242.3,512.8 243.7,513.7 245.1,515.5 246.5,517.3 247.9,516.1 249.3,514.8 250.7,517.8 252.1,518.8 253.5,517.7 254.9,517.3 256.3,517.9 257.7,519 259.1,519.9 260.5,522.9 261.9,521.9 263.3,519.3 264.7,521.1 266.1,521.6 267.5,522.9 268.9,524.7 270.3,523.6 271.7,523.5 273.1,521.4 274.5,520.7 275.9,519.3 277.3,521.8 278.7,522.6 280.1,521.2 281.5,521.4 282.9,523.1 284.3,523.6 285.7,524 287.1,524.3 288.5,525.3 289.9,524 291.3,520.4 292.7,520.1 294.1,516.8 295.5,518.6 296.9,517.7 298.3,517.9 299.7,515.9 301.1,514.9 302.5,514.5 303.9,513.7 305.3,513.5 306.7,515.6 308.1,517.1 309.5,518.7 310.9,520.3 312.3,520 313.7,517.6 315.1,516.9 316.5,516.2 317.9,516.1 319.3,514.2 320.7,515.1 322.1,514.1 323.5,516.8 324.9,517.4 326.3,518.7 327.7,520.6 329.1,518.5 330.5,518.5 331.9,517.9 333.3,515.9 334.7,516.3 336.1,517.2 337.5,514.4 338.9,514 340.3,512.4 341.7,512.6 343.1,512.1 344.5,514.6 345.9,514.5 347.3,516.9 348.7,515.2 350.1,516.2 351.5,514 352.9,513.2 354.3,513.1 355.7,511.2 357.1,511 358.5,513.1 359.9,513.2 361.3,511.9 362.7,513.7 364.1,512.8 365.5,513.3 366.9,513.6 368.3,513.7 369.7,513.5 371.1,511.5 372.5,510.6 373.9,508.8 375.3,511.1 376.7,513.1 378.1,513.6 379.5,514.4 380.9,515 382.3,516.1 383.7,516.3 385.1,516.2 386.5,514.3 387.9,513.9 389.3,511.7 390.7,509.8 392.1,509.6 393.5,509.6 394.9,509.8 396.3,512.7 397.7,511.8 399.1,511.6 400.5,509 401.9,508.9 403.3,506 404.7,505.3 406.1,505.7 407.5,505.8 408.9,506.6 410.3,505.2 411.7,506.9 413.1,507 414.5,505.9 415.9,506.5 417.3,510 418.7,511.2 420.1,513.2 421.5,514.5 422.9,516.6 424.3,516.2 425.7,517.6 427.1,517.9 428.5,519.1 429.9,519.6 431.3,520.4 432.7,520.2 434.1,518.8 435.5,519.6 436.9,521.3 438.3,522.5 439.7,525.9 441.1,528.8 442.5,526.4 443.9,525.3 445.3,522.5 446.7,523.6 448.1,524.9 449.5,524.6 450.9,524.1 452.3,525.8 453.7,526.4 455.1,524.7 456.5,524.1 457.9,523.6 459.3,525.5 460.7,524.2 462.1,522.5 463.5,523.3 464.9,524.7 466.3,524.4 467.7,522.8 469.1,524.6 470.5,525.8 471.9,527.3 473.3,529.5 474.7,532.9 476.1,533.8 477.5,534.6 478.9,536 480.3,536.7 481.7,537.4 483.1,540.3 484.5,540.3 485.9,539.2 487.3,540.1 488.7,540.7 490.1,543.1 491.5,544.7 492.9,544.8 494.3,543.9 495.7,545.3 497.1,544.7 498.5,544.3 499.9,543.3 501.3,543.7 502.7,542.1 504.1,542.1 505.5,541.4 506.9,541.7 508.3,541.2 509.7,544.1 511.1,544.2 512.5,546.5 513.9,545.1 515.3,544.3 516.7,545.9 518.1,546 519.5,546.3 520.9,547.3 522.3,545.5 523.7,545.3 525.1,545.2 526.5,546.4 527.9,543.6 529.3,539.8 530.7,539.8 532.1,538.6 533.5,537.9 534.9,537 536.3,534.6 537.7,532.4 539.1,532.1 540.5,530 541.9,530 543.3,529.4 544.7,529.2 546.1,527.5 547.5,526.7 548.9,525.6 550.3,523.9 551.7,523.3 553.1,524.9 554.5,525.8 555.9,525.3 557.3,524.5 558.7,524.4 560.1,523.2 561.5,522.1 562.9,518.6 564.3,519.9 565.7,522.7 567.1,521.9 568.5,523.4 569.9,523.9 571.3,525.3 572.7,527.8 574.1,528.4 575.5,526.5 576.9,523.5 578.3,522 579.7,520 581.1,522.4 582.5,525.3 583.9,525.2 585.3,524.9 586.7,524.8 588.1,526.5 589.5,527 590.9,526.4 592.3,525.4 593.7,526.8 595.1,527.7 596.5,526.3 597.9,525.4 599.3,523.5 600.7,526.3 602.1,528 603.5,531.6 604.9,532.4 606.3,530.6 607.7,528.9 609.1,530.4 610.5,530 611.9,529.8 613.3,529.7 614.7,530 616.1,532.3 617.5,532.8 618.9,532.6 620.3,531.4 621.7,530.2 623.1,528.7 624.5,528.1 625.9,532 627.3,533.3 628.7,536.5 630.1,539.2 631.5,540.9 632.9,542.3 634.3,539.5 635.7,539 637.1,537.1 638.5,536.3 639.9,536.1 641.3,534.4 642.7,535.4 644.1,538.7 645.5,538.3 646.9,537.7 648.3,536.3 649.7,535.8 651.1,534.9 652.5,537.9 653.9,535.1 655.3,532.4 656.7,532.2 658.1,531.3 659.5,528.2 660.9,528.3 662.3,529 663.7,528.7 665.1,531.9 666.5,531.3 667.9,528.6 669.3,527.8 670.7,524 672.1,522.7 673.5,520 674.9,519.6 676.3,522.2 677.7,522.5 679.1,521.5 680.5,524.5 681.9,525.2 683.3,527.6 684.7,531 686.1,533.9 687.5,535.4 688.9,535.9 690.3,533.9 691.7,532.2 693.1,528.6 694.5,525.6 695.9,523.3 697.3,521.3 698.7,522.3 700.1,523.8 701.5,521.1 702.9,521.1 704.3,520.3 705.7,519.3 707.1,520.8 708.5,522.2 709.9,523.8 711.3,522.6 712.7,521.7 714.1,522.2 715.5,523.8 716.9,524.1 718.3,523 719.7,524.8 721.1,528 722.5,527.5 723.9,526 725.3,524.3 726.7,524 728.1,525.3 729.5,525.9 730.9,528.6 732.3,530.5 733.7,532.4 735.1,533.8 736.5,532.5 737.9,535.1 739.3,535.2 740.7,537.8 742.1,540.1 743.5,542.2 744.9,543.7 746.3,546 747.7,545 749.1,544.9 750.5,542.9 751.9,541.3 753.3,540.2 754.7,538.7 756.1,536.7 757.5,533.6 758.9,531.4 760.3,530.6" stroke="#f28c90"/></g>
<g clip-path="url(#c2)" fill="none" stroke-width="1.250" stroke-linejoin="round">
<polyline points="200.3,533.2 201.7,534.1 203.1,533.1 204.5,531.4 205.9,531.3 207.3,529.2 208.7,527.1 210.1,524.5 211.5,523.3 212.9,522.3 214.3,521.2 215.7,521.5 217.1,523.5 218.5,524 219.9,525.2 221.3,522 222.7,519.3 224.1,517 225.5,514.8 226.9,512.1 228.3,510.8 229.7,511.2 231.1,511.5 232.5,509.3 233.9,508.3 235.3,508.9 236.7,508.9 238.1,510.9 239.5,510.6 240.9,510.8 242.3,512.8 243.7,513.7 245.1,515.5 246.5,517.3 247.9,516.1 249.3,514.8 250.7,517.8 252.1,518.8 253.5,517.7 254.9,517.3 256.3,517.9 257.7,519 259.1,519.9 260.5,522.9 261.9,521.9 263.3,519.3 264.7,521.1 266.1,521.6 267.5,522.9 268.9,524.7 270.3,523.6 271.7,523.5 273.1,521.4 274.5,520.7 275.9,519.3 277.3,521.8 278.7,522.6 280.1,521.2 281.5,521.4 282.9,523.1 284.3,523.6 285.7,524 287.1,524.3 288.5,525.3 289.9,524 291.3,520.4 292.7,520.1 294.1,516.8 295.5,518.6 296.9,517.7 298.3,517.9 299.7,515.9 301.1,514.9 302.5,514.5 303.9,513.7 305.3,513.5 306.7,515.6 308.1,517.1 309.5,518.7 310.9,520.3 312.3,520 313.7,517.6 315.1,516.9 316.5,516.2 317.9,516.1 319.3,514.2 320.7,515.1 322.1,514.1 323.5,516.8 324.9,517.4 326.3,518.7 327.7,520.6 329.1,518.5 330.5,518.5 331.9,517.9 333.3,515.9 334.7,516.3 336.1,517.2 337.5,514.4 338.9,514 340.3,512.4 341.7,512.6 343.1,512.1 344.5,514.6 345.9,514.5 347.3,516.9 348.7,515.2 350.1,516.2 351.5,514 352.9,513.2 354.3,513.1 355.7,511.2 357.1,511 358.5,513.1 359.9,513.2 361.3,511.9 362.7,513.7 364.1,512.8 365.5,513.3 366.9,513.6 368.3,513.7 369.7,513.5 371.1,511.5 372.5,510.6 373.9,508.8 375.3,511.1 376.7,513.1 378.1,513.6 379.5,514.4 380.9,515 382.3,516.1 383.7,516.3 385.1,516.2 386.5,514.3 387.9,513.9 389.3,511.7 390.7,509.8 392.1,509.6 393.5,509.6 394.9,509.8 396.3,512.7 397.7,511.8 399.1,511.6 400.5,509 401.9,508.9 403.3,506 404.7,505.3 406.1,505.7 407.5,505.8 408.9,506.6 410.3,505.2 411.7,506.9 413.1,507 414.5,505.9 415.9,506.5 417.3,510 418.7,511.2 420.1,513.2 421.5,514.5 422.9,516.6 424.3,516.2 425.7,517.6 427.1,517.9 428.5,519.1 429.9,519.6 431.3,520.4 432.7,520.2 434.1,518.8 435.5,519.6 436.9,521.3 438.3,522.5 439.7,525.9 441.1,528.8 442.5,526.4 443.9,525.3 445.3,522.5 446.7,523.6 448.1,524.9 449.5,524.6 450.9,524.1 452.3,525.8 453.7,526.4 455.1,524.7 456.5,524.1 457.9,523.6 459.3,525.5 460.7,524.2 462.1,522.5 463.5,523.3 464.9,524.7 466.3,524.4 467.7,522.8 469.1,524.6 470.5,525.8 471.9,527.3 473.3,529.5 474.7,532.9 476.1,533.8 477.5,534.6 478.9,536 480.3,536.7 481.7,537.4 483.1,540.3 484.5,540.3 485.9,539.2 487.3,540.1 488.7,540.7 490.1,543.1 491.5,544.7 492.9,544.8 494.3,543.9 495.7,545.3 497.1,544.7 498.5,544.3 499.9,543.3 501.3,543.7 502.7,542.1 504.1,542.1 505.5,541.4 506.9,541.7 508.3,541.2 509.7,544.1 511.1,544.2 512.5,546.5 513.9,545.1 515.3,544.3 516.7,545.9 518.1,546 519.5,546.3 520.9,547.3 522.3,545.5 523.7,545.3 525.1,545.2 526.5,546.4 527.9,543.6 529.3,539.8 530.7,539.8 532.1,538.6 533.5,537.9 534.9,537 536.3,534.6 537.7,532.4 539.1,532.1 540.5,530 541.9,530 543.3,529.4 544.7,529.2 546.1,527.5 547.5,526.7 548.9,525.6 550.3,523.9 551.7,523.3 553.1,524.9 554.5,525.8 555.9,525.3 557.3,524.5 558.7,524.4 560.1,523.2 561.5,522.1 562.9,518.6 564.3,519.9 565.7,522.7 567.1,521.9 568.5,523.4 569.9,523.9 571.3,525.3 572.7,527.8 574.1,528.4 575.5,526.5 576.9,523.5 578.3,522 579.7,520 581.1,522.4 582.5,525.3 583.9,525.2 585.3,524.9 586.7,524.8 588.1,526.5 589.5,527 590.9,526.4 592.3,525.4 593.7,526.8 595.1,527.7 596.5,526.3 597.9,525.4 599.3,523.5 600.7,526.3 602.1,528 603.5,531.6 604.9,532.4 606.3,530.6 607.7,528.9 609.1,530.4 610.5,530 611.9,529.8 613.3,529.7 614.7,530 616.1,532.3 617.5,532.8 618.9,532.6 620.3,531.4 621.7,530.2 623.1,528.7 624.5,528.1 625.9,532 627.3,533.3 628.7,536.5 630.1,539.2 631.5,540.9 632.9,542.3 634.3,539.5 635.7,539 637.1,537.1 638.5,536.3 639.9,536.1 641.3,534.4 642.7,535.4 644.1,538.7 645.5,538.3 646.9,537.7 648.3,536.3 649.7,535.8 651.1,534.9 652.5,537.9 653.9,535.1 655.3,532.4 656.7,532.2 658.1,531.3 659.5,528.2 660.9,528.3 662.3,529 663.7,528.7 665.1,531.9 666.5,531.3 667.9,528.6 669.3,527.8 670.7,524 672.1,522.7 673.5,520 674.9,519.6 676.3,522.2 677.7,522.5 679.1,521.5 680.5,524.5 681.9,525.2 683.3,527.6 684.7,531 686.1,533.9 687.5,535.4 688.9,535.9 690.3,533.9 691.7,532.2 693.1,528.6 694.5,525.6 695.9,523.3 697.3,521.3 698.7,522.3 700.1,523.8 701.5,521.1 702.9,521.1 704.3,520.3 705.7,519.3 707.1,520.8 708.5,522.2 709.9,523.8 711.3,522.6 712.7,521.7 714.1,522.2 715.5,523.8 716.9,524.1 718.3,523 719.7,524.8 721.1,528 722.5,527.5 723.9,526 725.3,524.3 726.7,524 728.1,525.3 729.5,525.9 730.9,528.6 732.3,530.5 733.7,532.4 735.1,533.8 736.5,532.5 737.9,535.1 739.3,535.2 740.7,537.8 742.1,540.1 743.5,542.2 744.9,543.7 746.3,546 747.7,545 749.1,544.9 750.5,542.9 751.9,541.3 753.3,540.2 754.7,538.7 756.1,536.7 757.5,533.6 758.9,531.4 760.3,530.6" stroke="#ee3038"/><polyline points="200.3,512.7 201.7,512.9 203.1,511.3 204.5,509.4 205.9,509.1 207.3,510 208.7,512.7 210.1,515.8 211.5,517.1 212.9,518 214.3,520.7 215.7,518.1 217.1,517 218.5,513.3 219.9,513.9 221.3,515.4 222.7,513.9 224.1,514.1 225.5,512.6 226.9,509.3 228.3,508.9 229.7,510.5 231.1,510.9 232.5,508.3 233.9,506.8 235.3,506.8 236.7,506.7 238.1,507.8 239.5,508.2 240.9,507.5 242.3,506.1 243.7,505.5 245.1,506.4 246.5,507.9 247.9,508.6 249.3,509 250.7,511 252.1,509.3 253.5,508.3 254.9,507.9 256.3,510.6 257.7,509.1 259.1,505.7 260.5,506.1 261.9,507.7 263.3,508.2 264.7,507 266.1,504.6 267.5,507.6 268.9,509.2 270.3,508.4 271.7,509 273.1,511.5 274.5,513.3 275.9,513.5 277.3,514.6 278.7,512.7 280.1,512.4 281.5,513 282.9,511.7 284.3,510.6 285.7,510.5 287.1,510.4 288.5,511.3 289.9,511.9 291.3,513.8 292.7,515.6 294.1,517.1 295.5,517.4 296.9,517.6 298.3,518.3 299.7,517.7 301.1,518 302.5,519.1 303.9,519.4 305.3,518.9 306.7,519.4 308.1,519.5 309.5,520.6 310.9,522 312.3,520.4 313.7,518.5 315.1,518.2 316.5,515.8 317.9,516 319.3,516.6 320.7,515.3 322.1,513.6 323.5,512.4 324.9,515.8 326.3,518.1 327.7,516.9 329.1,518.4 330.5,518 331.9,518.4 333.3,518.6 334.7,517.7 336.1,515.7 337.5,515.7 338.9,515.8 340.3,515.6 341.7,518.8 343.1,519.2 344.5,517.9 345.9,518.4 347.3,519.3 348.7,519.6 350.1,519.1 351.5,519.2 352.9,519.9 354.3,520.3 355.7,520.5 357.1,519.9 358.5,519.8 359.9,519 361.3,518.1 362.7,517 364.1,516.4 365.5,516.1 366.9,517 368.3,516.6 369.7,516.9 371.1,515.6 372.5,513.9 373.9,513.4 375.3,513.8 376.7,515.8 378.1,514.3 379.5,513.6 380.9,515.7 382.3,516 383.7,515.8 385.1,516.5 386.5,516.3 387.9,514.6 389.3,515.3 390.7,516.8 392.1,517.6 393.5,518.7 394.9,519.5 396.3,519 397.7,521.2 399.1,522.7 400.5,523.1 401.9,523.8 403.3,526.9 404.7,527.4 406.1,526 407.5,526 408.9,525.5 410.3,522.8 411.7,522.3 413.1,522.2 414.5,523.8 415.9,523 417.3,523.4 418.7,522.4 420.1,522.4 421.5,522.2 422.9,523.5 424.3,522.6 425.7,524.9 427.1,525.1 428.5,524.2 429.9,522.2 431.3,521.6 432.7,520.8 434.1,522 435.5,521.2 436.9,522.2 438.3,524.4 439.7,525.1 441.1,524.1 442.5,524.8 443.9,523.8 445.3,526.1 446.7,526.6 448.1,526.8 449.5,527.6 450.9,528.5 452.3,530.8 453.7,528 455.1,529.4 456.5,530.2 457.9,529.2 459.3,527.4 460.7,528.1 462.1,527.9 463.5,527.2 464.9,527.2 466.3,526.7 467.7,525.3 469.1,523.9 470.5,524.5 471.9,524.2 473.3,525 474.7,526.1 476.1,528.3 477.5,528.2 478.9,529.1 480.3,528.9 481.7,529.6 483.1,529.7 484.5,528.7 485.9,529.5 487.3,528.8 488.7,529.8 490.1,530.1 491.5,530.5 492.9,531.7 494.3,534.1 495.7,535.8 497.1,535.5 498.5,533.7 499.9,534 501.3,532.6 502.7,532.7 504.1,534.3 505.5,531.7 506.9,531.8 508.3,530.8 509.7,531.5 511.1,531.7 512.5,528.8 513.9,530.5 515.3,530.6 516.7,529.8 518.1,527.3 519.5,526.3 520.9,525.3 522.3,526.9 523.7,526.8 525.1,525.9 526.5,523.9 527.9,520.8 529.3,520.2 530.7,519.6 532.1,520 533.5,520.1 534.9,521.8 536.3,521.2 537.7,520.8 539.1,518.9 540.5,518.6 541.9,519.2 543.3,518.8 544.7,518.1 546.1,515.9 547.5,514.6 548.9,514 550.3,514.7 551.7,514.1 553.1,515.8 554.5,515 555.9,514.1 557.3,515.7 558.7,517.1 560.1,516.3 561.5,518.3 562.9,517.9 564.3,519.4 565.7,522.3 567.1,521.3 568.5,522.7 569.9,525.3 571.3,523.7 572.7,521.2 574.1,520.8 575.5,522.4 576.9,524.2 578.3,522.3 579.7,524.3 581.1,524.5 582.5,526.4 583.9,525.3 585.3,523.2 586.7,522.6 588.1,523 589.5,522.6 590.9,524.3 592.3,523.4 593.7,523.8 595.1,526.4 596.5,524.9 597.9,524.1 599.3,522.9 600.7,523.1 602.1,523 603.5,525.3 604.9,525.5 606.3,524.6 607.7,522.2 609.1,522.8 610.5,524 611.9,524.3 613.3,523.2 614.7,524.4 616.1,525.5 617.5,526.5 618.9,528.4 620.3,526.9 621.7,525.6 623.1,523.4 624.5,522.7 625.9,525.7 627.3,525.2 628.7,523.8 630.1,524.1 631.5,524.3 632.9,522.7 634.3,523 635.7,523.3 637.1,521.9 638.5,521.8 639.9,522.3 641.3,521.5 642.7,522.9 644.1,524.8 645.5,523.5 646.9,522.1 648.3,520.9 649.7,519.9 651.1,518.5 652.5,516.3 653.9,515.9 655.3,513.5 656.7,513 658.1,513.8 659.5,512.2 660.9,512.3 662.3,512.9 663.7,515.1 665.1,514.1 666.5,515.3 667.9,515.5 669.3,513.5 670.7,515.8 672.1,514.5 673.5,515.1 674.9,514.7 676.3,515 677.7,514.8 679.1,514 680.5,514.5 681.9,514.1 683.3,511.3 684.7,511.7 686.1,509 687.5,509.4 688.9,507.2 690.3,508.8 691.7,511.1 693.1,511.8 694.5,513.2 695.9,514.4 697.3,515.2 698.7,515.4 700.1,514.8 701.5,515.9 702.9,515.7 704.3,517.4 705.7,517.2 707.1,515.3 708.5,514 709.9,515 711.3,514.6 712.7,514.9 714.1,515.8 715.5,517.4 716.9,517.3 718.3,517.6 719.7,517.3 721.1,515.7 722.5,513.9 723.9,514.4 725.3,513.6 726.7,514.6 728.1,516.7 729.5,520.7 730.9,521.6 732.3,523 733.7,523.7 735.1,525.4 736.5,524 737.9,523.6 739.3,525 740.7,525 742.1,525.9 743.5,528.5 744.9,527.6 746.3,527 747.7,525.2 749.1,524.3 750.5,523.9 751.9,522.4 753.3,523.3 754.7,523.7 756.1,522.8 757.5,522.8 758.9,524.2 760.3,526.2" stroke="#3333cc"/><polyline points="200.3,520.4 201.7,525.2 203.1,528.1 204.5,530.5 205.9,530 207.3,527.7 208.7,524.8 210.1,524.7 211.5,521.5 212.9,519.6 214.3,519.4 215.7,518.6 217.1,519.8 218.5,517.7 219.9,516.7 221.3,515.9 222.7,517.4 224.1,516.8 225.5,514.7 226.9,515.7 228.3,516.5 229.7,514.5 231.1,515.1 232.5,513.8 233.9,512.2 235.3,511.9 236.7,514.2 238.1,514.2 239.5,515.7 240.9,518 242.3,518.9 243.7,519.8 245.1,519.1 246.5,520.4 247.9,520.3 249.3,522.3 250.7,521.9 252.1,518.4 253.5,517.2 254.9,516.9 256.3,517.4 257.7,514.4 259.1,514.6 260.5,515.7 261.9,516.8 263.3,515.6 264.7,515.8 266.1,518.3 267.5,516.3 268.9,515.3 270.3,514.3 271.7,514.4 273.1,515.2 274.5,516.4 275.9,516.2 277.3,515.6 278.7,519.8 280.1,521.6 281.5,522.5 282.9,523 284.3,524.7 285.7,524.7 287.1,527 288.5,527 289.9,526.7 291.3,526.5 292.7,528.6 294.1,529.3 295.5,527.3 296.9,527.9 298.3,526.5 299.7,526.4 301.1,526.9 302.5,527 303.9,526.8 305.3,526.4 306.7,528.8 308.1,527.9 309.5,529.7 310.9,527.6 312.3,526 313.7,523.9 315.1,521 316.5,520.9 317.9,518.9 319.3,517.9 320.7,518.6 322.1,518.1 323.5,520.3 324.9,523.1 326.3,525.6 327.7,522.3 329.1,519.9 330.5,521.2 331.9,519.5 333.3,520 334.7,519.1 336.1,518.9 337.5,520 338.9,520.6 340.3,521.4 341.7,521.8 343.1,522.2 344.5,523.3 345.9,524.7 347.3,523.3 348.7,522.6 350.1,522.8 351.5,521.5 352.9,522.5 354.3,524.9 355.7,524.4 357.1,525 358.5,525.2 359.9,527.2 361.3,526.6 362.7,524.7 364.1,526.5 365.5,527 366.9,526.7 368.3,528.9 369.7,529.9 371.1,531.6 372.5,528.9 373.9,527.9 375.3,527.5 376.7,525.6 378.1,526.1 379.5,528 380.9,529.5 382.3,528.9 383.7,530.3 385.1,531.5 386.5,534.6 387.9,534 389.3,531.6 390.7,529.7 392.1,528.4 393.5,527.4 394.9,528.1 396.3,528.5 397.7,525.9 399.1,525.9 400.5,524.8 401.9,523.7 403.3,523.9 404.7,525.7 406.1,524.9 407.5,523.8 408.9,522.5 410.3,521.3 411.7,518.1 413.1,517.5 414.5,517 415.9,518.2 417.3,517.9 418.7,518.7 420.1,516.7 421.5,517.1 422.9,518.3 424.3,519.3 425.7,518.8 427.1,518.7 428.5,518.9 429.9,520.3 431.3,520.1 432.7,521.4 434.1,521 435.5,518.9 436.9,518.2 438.3,517.9 439.7,515.7 441.1,514.6 442.5,512.7 443.9,510.9 445.3,509.4 446.7,510.5 448.1,511.7 449.5,513.5 450.9,514.6 452.3,516.1 453.7,518.5 455.1,520.5 456.5,518 457.9,516.3 459.3,516.6 460.7,516.5 462.1,520.2 463.5,519.4 464.9,520.9 466.3,520 467.7,517.6 469.1,519.2 470.5,519.8 471.9,521.4 473.3,522.9 474.7,523.3 476.1,524.4 477.5,525.1 478.9,525.6 480.3,526.3 481.7,525.2 483.1,527.3 484.5,526.4 485.9,529.7 487.3,530.7 488.7,531.3 490.1,531.3 491.5,531.3 492.9,530.8 494.3,532.8 495.7,537.7 497.1,539.9 498.5,540.2 499.9,539.6 501.3,538.2 502.7,537 504.1,537.2 505.5,535.7 506.9,534.4 508.3,533.7 509.7,536.7 511.1,538.5 512.5,541.5 513.9,542.7 515.3,543.7 516.7,545.6 518.1,546.7 519.5,545.3 520.9,545.7 522.3,544.8 523.7,542.7 525.1,540.6 526.5,536 527.9,535.2 529.3,535.3 530.7,533.7 532.1,537 533.5,540.1 534.9,544.9 536.3,547.8 537.7,547 539.1,546.7 540.5,544.1 541.9,543.5 543.3,544.2 544.7,544.3 546.1,542.8 547.5,543.2 548.9,540.1 550.3,535.9 551.7,536.1 553.1,537.8 554.5,540.6 555.9,543.6 557.3,543.7 558.7,539.4 560.1,536 561.5,534.2 562.9,533.9 564.3,534 565.7,534.2 567.1,532.2 568.5,530.3 569.9,530.1 571.3,530.2 572.7,529.7 574.1,530.2 575.5,532 576.9,531.3 578.3,530.4 579.7,528.6 581.1,527.7 582.5,527.6 583.9,528.8 585.3,530 586.7,529.9 588.1,531.5 589.5,532.8 590.9,533.2 592.3,532.9 593.7,531.4 595.1,525.7 596.5,523.6 597.9,520.8 599.3,520 600.7,518.3 602.1,516 603.5,516.2 604.9,516.4 606.3,515.7 607.7,514.9 609.1,512.8 610.5,515.9 611.9,517.4 613.3,516.8 614.7,515.1 616.1,516.5 617.5,518.5 618.9,519.1 620.3,519 621.7,519.4 623.1,517.2 624.5,517 625.9,517.9 627.3,515.8 628.7,515.5 630.1,513.7 631.5,517.3 632.9,517.6 634.3,518.7 635.7,521.7 637.1,519.6 638.5,520.8 639.9,521.4 641.3,522.6 642.7,521.9 644.1,520.2 645.5,521.6 646.9,520.9 648.3,523 649.7,522.9 651.1,521.9 652.5,519.1 653.9,519.1 655.3,518.2 656.7,515.8 658.1,515.9 659.5,515.6 660.9,515.2 662.3,514.7 663.7,515.5 665.1,520.3 666.5,524 667.9,525.7 669.3,524.9 670.7,523.9 672.1,522.8 673.5,521.3 674.9,521.6 676.3,522.3 677.7,524.3 679.1,526.3 680.5,525.2 681.9,525.5 683.3,524.9 684.7,528 686.1,529.5 687.5,530.3 688.9,530.2 690.3,529.6 691.7,528.8 693.1,527.5 694.5,524.5 695.9,523.4 697.3,524.8 698.7,526 700.1,526.6 701.5,528.9 702.9,530.5 704.3,528.4 705.7,528.2 707.1,528.5 708.5,530.4 709.9,531.7 711.3,532.4 712.7,532.9 714.1,533 715.5,531.1 716.9,531.9 718.3,531.7 719.7,533.3 721.1,533.7 722.5,534.1 723.9,535.4 725.3,535.7 726.7,536.2 728.1,536.6 729.5,538.5 730.9,541 732.3,542.7 733.7,544.5 735.1,541.2 736.5,541 737.9,537.1 739.3,535.2 740.7,534.4 742.1,534.3 743.5,532.4 744.9,530.3 746.3,529.1 747.7,529.2 749.1,530.5 750.5,530.3 751.9,531.5 753.3,532.2 754.7,530.7 756.1,530.2 757.5,532.1 758.9,534.5 760.3,533.8" stroke="#008800"/></g>
<rect x="588.5" y="498.5" width="111.0" height="59.0" fill="none" stroke="#6a6a6a" stroke-width="1"/>
</svg>
</div></body></html>
